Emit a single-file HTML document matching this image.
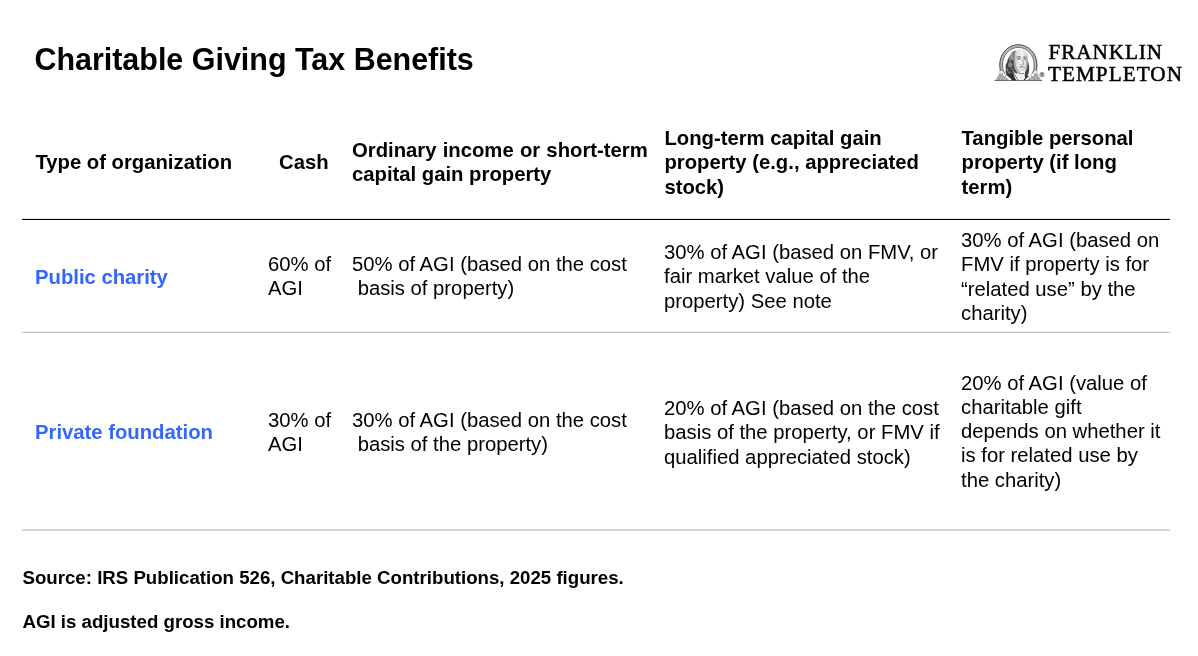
<!DOCTYPE html>
<html lang="en">
<head>
<meta charset="utf-8">
<title>Charitable Giving Tax Benefits</title>
<style>
html,body{margin:0;padding:0;background:#fff;}
body{width:1198px;height:656px;position:relative;overflow:hidden;font-family:"Liberation Sans",Arial,sans-serif;color:#000;}
.t{position:absolute;white-space:nowrap;}
h1{position:absolute;margin:0;left:34.4px;top:41px;font-size:30.46px;line-height:36px;font-weight:bold;white-space:nowrap;}
.h{font-weight:bold;font-size:20.27px;line-height:24.35px;}
.c{font-size:20.27px;line-height:24.3px;}
.b{color:#3366ff;font-weight:bold;font-size:20.27px;line-height:24.3px;}
.ln{position:absolute;left:22px;width:1148px;height:1px;background:#c4c4c4;border-top:1px solid #f0f0f0;}
.f{font-weight:bold;font-size:18.67px;line-height:22px;}
.logo{position:absolute;left:1048px;font-family:"Liberation Serif","Times New Roman",serif;font-weight:normal;font-size:21.2px;line-height:24px;letter-spacing:0.9px;white-space:nowrap;color:#000;-webkit-text-stroke:0.5px #000;}
</style>
</head>
<body>
<h1>Charitable Giving Tax Benefits</h1>

<div class="t h" style="left:35.4px;top:150px;">Type of organization</div>
<div class="t h" style="left:279px;top:150px;">Cash</div>
<div class="t h" style="left:352px;top:138px;"><span style="word-spacing:0.6px">Ordinary income or short-term</span><br>capital gain property</div>
<div class="t h" style="left:664.4px;top:126px;">Long-term capital gain<br>property (e.g., appreciated<br>stock)</div>
<div class="t h" style="left:961.5px;top:126px;">Tangible personal<br>property (if long<br>term)</div>
<div class="ln" style="top:218px;background:#000;border-top-color:#e4e4e4;"></div>

<div class="t b" style="left:35px;top:265px;">Public charity</div>
<div class="t c" style="left:268px;top:252px;">60% of<br>AGI</div>
<div class="t c" style="left:352px;top:252px;">50% of AGI (based on the cost<br>&nbsp;basis of property)</div>
<div class="t c" style="left:664px;top:240px;">30% of AGI (based on FMV, or<br>fair market value of the<br>property) See note</div>
<div class="t c" style="left:961px;top:228px;">30% of AGI (based on<br>FMV if property is for<br>“related use” by the<br>charity)</div>
<div class="ln" style="top:331px;"></div>

<div class="t b" style="left:35px;top:420px;">Private foundation</div>
<div class="t c" style="left:268px;top:408px;">30% of<br>AGI</div>
<div class="t c" style="left:352px;top:408px;">30% of AGI (based on the cost<br>&nbsp;basis of the property)</div>
<div class="t c" style="left:664px;top:396px;">20% of AGI (based on the cost<br>basis of the property, or FMV if<br>qualified appreciated stock)</div>
<div class="t c" style="left:961px;top:371.2px;line-height:24.1px;">20% of AGI (value of<br>charitable gift<br>depends on whether it<br>is for related use by<br>the charity)</div>
<div class="ln" style="top:529px;height:2px;border-top:0;background:#d6d6d6;"></div>

<div class="t f" style="left:22.5px;top:566.8px;">Source: IRS Publication 526, Charitable Contributions, 2025 figures.</div>
<div class="t f" style="left:22.5px;top:610.8px;">AGI is adjusted gross income.</div>

<svg class="t" style="left:990px;top:36px;" width="70" height="54" viewBox="0 0 70 54">
<defs>
<clipPath id="base"><rect x="0" y="0" width="70" height="45"/></clipPath>
<clipPath id="inner"><ellipse cx="28.35" cy="28.9" rx="15.4" ry="17"/></clipPath>
<linearGradient id="face" x1="0" y1="0" x2="1" y2="0"><stop offset="0" stop-color="#8f8f8f"/><stop offset="0.22" stop-color="#dedede"/><stop offset="0.6" stop-color="#f4f4f4"/><stop offset="0.85" stop-color="#d8d8d8"/><stop offset="1" stop-color="#9c9c9c"/></linearGradient>
<linearGradient id="leafL" x1="0" y1="0" x2="1" y2="1"><stop offset="0" stop-color="#c9c9c9"/><stop offset="1" stop-color="#8a8a8a"/></linearGradient>
<filter id="bl" x="-20%" y="-20%" width="140%" height="140%"><feGaussianBlur stdDeviation="0.45"/></filter>
<filter id="bl2" x="-20%" y="-20%" width="140%" height="140%"><feGaussianBlur stdDeviation="0.3"/></filter>
</defs>
<g clip-path="url(#base)">
<!-- oval frame -->
<g filter="url(#bl2)">
<ellipse cx="28.35" cy="28.9" rx="17.3" ry="18.9" fill="#fff" stroke="#b9b9b9" stroke-width="3.2"/>
<ellipse cx="28.35" cy="28.9" rx="18.6" ry="20.2" fill="none" stroke="#3f3f3f" stroke-width="0.9"/>
<ellipse cx="28.35" cy="28.9" rx="15.9" ry="17.5" fill="none" stroke="#555" stroke-width="0.8"/>
</g>
<!-- portrait -->
<g clip-path="url(#inner)" filter="url(#bl)">
<!-- hair left -->
<path d="M25.6 14.4 C23 15 21 17 20.2 19.6 C18.6 21.6 17.4 23.6 17.2 26 C15.6 28 15.2 31 15.8 33.6 C15.2 36.4 15.8 39.4 17.4 41.6 L19 45 L27 45 L26.6 30 L25 20 Z" fill="#464646"/>
<path d="M25.6 14.4 C23 15 21 17 20.2 19.6 C19.4 21 19 22.6 19 24 L24 24.4 L24.4 18 Z" fill="#7a7a7a"/>
<path d="M22.4 16.6 C21.2 18.8 21.4 21.4 22.8 23.2" stroke="#b5b5b5" stroke-width="1.1" fill="none"/>
<path d="M20.4 20.6 C19.4 22.6 19.6 24.4 20.8 25.6" stroke="#9f9f9f" stroke-width="0.9" fill="none"/>
<path d="M18.8 26.6 C20.6 25.8 22.8 27 22.4 29.4 C22 31.4 19.6 31.8 18.4 30.4 C17.8 29.2 18 27.6 18.8 26.6 Z" fill="#8a8a8a"/>
<path d="M17.2 32.6 C17 35 18.2 36.8 20.4 37 M21.4 32.4 C22.4 33.4 23.4 33.6 24.4 33.2" stroke="#9a9a9a" stroke-width="0.9" fill="none"/>
<!-- hair right -->
<path d="M37 23.6 C38.6 26 39.4 30 39.1 33.5 C39 37 38 40 36.2 42 L34.4 41 L35.6 33 Z" fill="#444"/>
<!-- coat -->
<path d="M12 46 C13.5 41.5 16.4 38.6 21.6 37.2 L26 43.6 L33.4 44 L36.4 39.6 C40 40.4 42.6 42.6 44 46 Z" fill="#2f2f2f"/>
<!-- collar / cravat -->
<path d="M23 35 L27 38.2 L34 39.4 L35.2 41.2 L33 45 L26.8 45 L24.6 41.6 Z" fill="#f2f2f2"/>
<path d="M23.4 36 C24.8 39.4 26.8 42.4 28.8 44.8" stroke="#4a4a4a" stroke-width="0.8" fill="none"/>
<!-- face -->
<path d="M24 21.5 C23.4 16.6 26.4 13.2 30.4 13.2 C34.8 13.2 37.2 16.4 37.4 20.6 C37.9 23.6 38 26.6 37.5 29.6 C37.2 32.8 36 35.8 33.6 37 C30.6 37.8 27.2 36.4 25.4 33.6 C24 31.4 23.4 28.6 23.6 25.6 C23.6 24.2 24 23 24 21.5 Z" fill="url(#face)"/>
<!-- chin shadow -->
<path d="M25.2 34.2 C27.2 37 30.6 38.4 34 37.4" stroke="#5e5e5e" stroke-width="0.9" fill="none"/>
<!-- features -->
<path d="M26.6 21.4 C27.8 20.4 29.8 20.4 30.9 21.3 M33.2 21.4 C34 20.7 35.6 20.8 36.5 21.6" stroke="#5f5f5f" stroke-width="1" fill="none"/>
<path d="M27.2 23 C28.2 22.5 29.6 22.5 30.5 23.1 M33.5 23.1 C34.2 22.7 35.5 22.8 36.1 23.3" stroke="#333" stroke-width="0.9" fill="none"/>
<path d="M32.4 23.6 C32.8 25.6 33.7 27.2 33.3 28.5 C32.4 29.3 31 29.2 30.2 28.7" stroke="#777" stroke-width="0.8" fill="none"/>
<path d="M29.6 31.3 C31 30.8 33 30.9 34.6 31.4" stroke="#4d4d4d" stroke-width="0.8" fill="none"/>
<path d="M30.6 33.5 C31.6 33.9 32.8 33.9 33.8 33.5" stroke="#aaa" stroke-width="0.7" fill="none"/>
<path d="M25 27.5 C25.2 31 27 34 29.6 35.6" stroke="#a2a2a2" stroke-width="1.3" fill="none"/>
<path d="M36.8 25 C37 28 36.6 31 35.4 33.6" stroke="#b0b0b0" stroke-width="1.1" fill="none"/>
</g>
<!-- laurel leaves -->
<g filter="url(#bl2)">
<path d="M4.8 45 L9.2 37.8 L9.2 34 L12.2 35.6 L22 45 Z" fill="#b4b4b4"/>
<path d="M51.9 45.0 L47.5 37.8 L47.5 34.0 L44.5 35.6 L34.7 45.0 Z" fill="#b4b4b4"/>
<path d="M10.2 35.4 L13.4 38.6 L17 41.4 L20.6 44.4" stroke="#f6f6f6" stroke-width="2.8" fill="none"/>
<path d="M46.5 35.4 L43.3 38.6 L39.7 41.4 L36.1 44.4" stroke="#f6f6f6" stroke-width="2.8" fill="none"/>
<path d="M9.6 38.6 L11 40.6 M12.6 37.2 L12.2 39 M13.2 41 L15 41.6 M15.6 39.6 L15.2 41 M16.4 43.2 L18.4 43.4 M8 42 L9.8 43.2 M11.4 42.8 L13 43.6" stroke="#4a4a4a" stroke-width="0.6" fill="none"/>
<path d="M47.1 38.6 L45.7 40.6 M44.1 37.2 L44.5 39.0 M43.5 41.0 L41.7 41.6 M41.1 39.6 L41.5 41.0 M40.3 43.2 L38.3 43.4 M48.7 42.0 L46.9 43.2 M45.3 42.8 L43.7 43.6" stroke="#4a4a4a" stroke-width="0.6" fill="none"/>
<path d="M9.8 36.6 L11.8 38 M11.6 39.6 L14.2 40.2 M14.4 42 L17.4 42.4" stroke="#8a8a8a" stroke-width="0.6" fill="none"/>
<path d="M46.9 36.6 L44.9 38.0 M45.1 39.6 L42.5 40.2 M42.3 42.0 L39.3 42.4" stroke="#8a8a8a" stroke-width="0.6" fill="none"/>
</g>
<rect x="4.6" y="44.2" width="47.5" height="0.8" fill="#5a5a5a"/>
</g>
<!-- registered mark -->
<circle cx="52" cy="38.6" r="2.2" fill="#dcdcdc" stroke="#6f6f6f" stroke-width="0.8"/>
<text x="52" y="39.9" font-family="Liberation Sans, sans-serif" font-size="3.6" font-weight="bold" fill="#555" text-anchor="middle">R</text>
</svg>
<div class="logo" style="top:39.9px;left:1048.6px;">FRANKLIN</div>
<div class="logo" style="top:61.9px;letter-spacing:1.05px;">TEMPLETON</div>
</body>
</html>
